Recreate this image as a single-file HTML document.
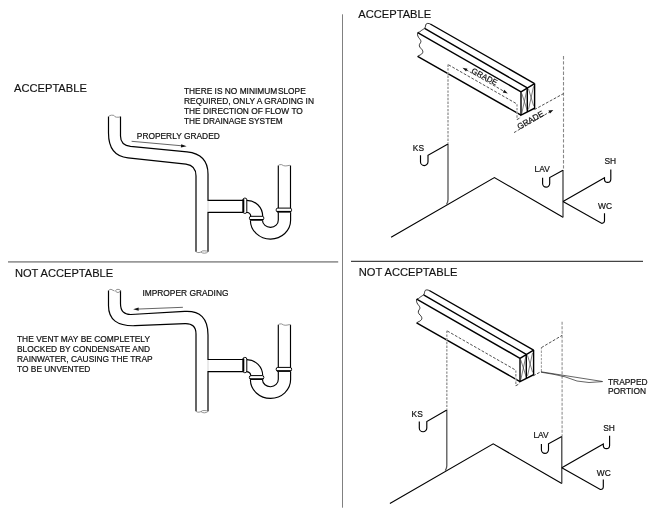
<!DOCTYPE html>
<html><head><meta charset="utf-8">
<style>
html,body{margin:0;padding:0;background:#fff;}
body{width:662px;height:512px;overflow:hidden;position:relative;}
svg{position:absolute;left:0;top:0;will-change:transform;}
text{font-family:"Liberation Sans",sans-serif;fill:#111;}
.h{font-size:11.15px;stroke:#111;stroke-width:0.15px;}
.s{font-size:8.4px;stroke:#111;stroke-width:0.2px;}
.ln{fill:none;stroke:#000;stroke-width:1.15;}
.lp{stroke-width:1.2;}
.g{fill:none;stroke:#a0a0a0;stroke-width:1.5;stroke-dasharray:2.4 1.3;}
.dk{fill:none;stroke:#222;stroke-width:0.8;stroke-dasharray:2.8 1.6;}
.cut{fill:none;stroke:#777;stroke-width:0.8;}
.vent{will-change:transform;position:absolute;left:17.4px;width:133px;height:10px;white-space:nowrap;font-family:"Liberation Sans",sans-serif;font-size:8.4px;line-height:10px;-webkit-text-stroke:0.2px #111;text-align:left;color:#111;}
.j{text-align:justify;text-align-last:justify;}
</style></head>
<body>
<svg width="662" height="512" viewBox="0 0 662 512">
<defs>
  <g id="trap">
    <!-- vertical coupling ring -->
    <rect x="243" y="198.1" width="3.8" height="15.3" rx="1.7" fill="#fff" stroke="#000" stroke-width="1"/>
    <rect x="242.6" y="199.2" width="1.7" height="13.1" fill="#000"/>
    <!-- elbow -->
    <path class="ln" d="M246.8,200.3 A15.9,16 0 0 1 262.7,216.4"/>
    <path class="ln" d="M246.8,212.3 Q250.6,212.8 250.8,216.4"/>
    <!-- horizontal ring -->
    <rect x="249.4" y="216.3" width="14.4" height="3.7" rx="1.6" fill="#fff" stroke="#000" stroke-width="1"/>
    <rect x="250" y="219" width="13.2" height="1.5" fill="#000"/>
    <!-- U bend -->
    <path class="ln" d="M250.4,220.4 A20.1,18.8 0 0 0 290.6,220.2 L290.6,212.3"/>
    <path class="ln" d="M262.5,220.4 A7.9,7.2 0 0 0 278.3,220 L278.3,212.3"/>
    <!-- right pipe -->
    <path class="ln" d="M278.3,208 L278.3,165.5 M290.5,165.5 L290.5,208"/>
    <path class="cut" d="M278.3,165.5 Q279.5,164.3 281.5,164.6 L283.5,165.6 Q285,166.2 287,165.8 L289,165.4 Q290,165.3 290.5,165.5"/>
    <rect x="276.2" y="208.1" width="15.4" height="3.8" rx="1.6" fill="#fff" stroke="#000" stroke-width="1"/>
    <rect x="277" y="210.9" width="13.8" height="1.5" fill="#000"/>
  </g>
  <g id="plumb">
    <!-- main drain -->
    <path class="ln" d="M391.1,237.2 L494.4,177.6 L563,217.2"/>
    <path fill="none" stroke="#333" stroke-width="1.2" d="M563,217.4 L563,170"/>
    <path class="ln" d="M563,170.2 L549.7,177.6 L549.7,183.6 A3.55,3.55 0 0 1 542.6,183.6 L542.6,177.8"/>
    <path fill="none" stroke="#555" stroke-width="1.3" d="M448,143.7 L448,199.5 Q448,202 446.5,204.5"/>
    <path class="ln" d="M448,143.9 L428,155.3 L428,161.8 A3.75,3.75 0 0 1 420.5,161.8 L420.5,155.3"/>
    <path class="ln" d="M563,201.6 L604.5,177.8 L604.5,179.3 A3.15,3.15 0 0 0 610.8,179.3 L610.8,169.5"/>
    <path class="ln" d="M563,201.6 L601.5,223.3 Q604.5,223.5 604.5,220.5 L604.5,213.3"/>
    <text class="s" x="412.8" y="150.8">KS</text>
    <text class="s" x="534.6" y="172.2">LAV</text>
    <text class="s" x="604.4" y="164.4">SH</text>
    <text class="s" x="598" y="209.4">WC</text>
  </g>
  <g id="beam">
    <path class="ln" style="stroke-width:1.4" d="M430.3,24 L534.6,83.6 M424.6,28.3 L527.3,87.9 M417.7,32.6 L521,91.8 M417.6,56.3 L521,115.1"/>
    <path class="ln" style="stroke-width:1.4" d="M521,91.8 L521,115.1 L534.6,108.2 L534.6,83.6 M527.3,87.9 L527.3,111.4 M521,91.8 L534.6,83.6"/>
    <path fill="none" stroke="#444" stroke-width="0.7" d="M521.8,93.5 L527,109.8 M527,89.3 L521.8,113.2 M528.5,88.8 L533.6,105.8 M533.6,86.3 L528.5,109.4"/>
    <path class="ln" style="stroke-width:0.8" d="M430.3,24 C428.5,23.2 426.8,23.2 426.2,24 C425.3,25.3 425.8,27 424.6,28.3 C423,29.6 421.5,30.2 420.8,31 C420,31.8 418.8,32.4 417.7,32.6 C417.3,34 417.4,35.5 418.6,37.5 C420.2,39.5 421.8,41 420.3,43 C418.6,45 419.2,46.8 421,48.5 C423.5,50.8 423.5,53 420.8,54.6 L417.6,56.3"/>
  </g>
</defs>

<!-- dividers -->
<line x1="342.5" y1="14.3" x2="342.5" y2="507.7" stroke="#808080" stroke-width="1"/>
<line x1="8" y1="261.9" x2="338.2" y2="261.9" stroke="#999" stroke-width="1.8"/>
<line x1="351" y1="261.4" x2="643" y2="261.4" stroke="#444" stroke-width="1.1"/>

<!-- headings -->
<text class="h" x="14" y="92.1">ACCEPTABLE</text>
<text class="h" style="font-size:11.1px" x="14.9" y="277">NOT ACCEPTABLE</text>
<text class="h" x="358.3" y="18">ACCEPTABLE</text>
<text class="h" x="358.7" y="276">NOT ACCEPTABLE</text>

<!-- ===== LEFT TOP ===== -->
<text class="s" style="font-size:8.35px" x="184" y="94">THERE IS NO MINIMUM<tspan dx="-1.6"> SLOPE</tspan></text>
<text class="s" x="184" y="104">REQUIRED, ONLY A GRADING IN</text>
<text class="s" style="font-size:8.35px" x="184" y="113.9">THE DIRECTION OF FLOW TO</text>
<text class="s" style="font-size:8.3px" x="184" y="123.5">THE DRAINAGE SYSTEM</text>
<text class="s" x="136.8" y="138.8">PROPERLY GRADED</text>
<path fill="none" stroke="#222" stroke-width="0.7" d="M131.6,141.3 L182,145.8"/>
<path fill="#111" d="M186.6,146.2 L181.2,144.3 L180.9,147.5 Z"/>
<!-- vent pipe -->
<path class="ln lp" d="M120.5,116.6 L120.5,136 Q120.5,145.2 130.5,146.4 L187,151.8 Q208,154 208,174 L208,200.3 L243,200.3 M243,212.3 L208,212.3 L208,251.8"/>
<path class="ln lp" d="M108.5,116.6 L108.5,133 C108.5,148 114,156.5 128,157.8 L186,164.2 Q196,165.5 196,176 L196,251.8"/>
<path class="cut" d="M108.5,116.6 Q109.8,115.2 111.5,115.2 L113.8,115.3 Q114.8,117.2 116.5,117.2 L119,117.2 Q120,117 120.5,116.6"/>
<path class="cut" d="M196,251.6 Q197.2,252.8 199,252.6 L201,252 Q202,250.6 204,250.8 L206.5,251 Q207.6,251.2 208,251.6 M201,252 Q202.5,253.4 204.5,253.2 L206.5,252.8 Q207.8,252.3 208,251.6"/>
<path fill="none" stroke="#ccc" stroke-width="0.8" d="M208,200.8 L208,211.8 M208,360 L208,371.2"/>
<use href="#trap"/>

<!-- ===== LEFT BOTTOM ===== -->
<text class="s" x="142.4" y="296">IMPROPER GRADING</text>
<path fill="none" stroke="#222" stroke-width="0.7" d="M182.9,307.3 L137,309.1"/>
<path fill="#111" d="M133.2,309.3 L138.6,307.6 L138.7,310.8 Z"/>
<path class="ln lp" d="M120.5,290.6 L120.5,303.4 Q120.5,314.8 131,314.5 L184.6,311.4 Q208,310 208,335 L208,359.5 L243,359.5 M243,371.7 L208,371.7 L208,411.3"/>
<path class="ln lp" d="M108.5,290.6 L108.5,305.8 Q108.5,326.5 135,325.7 L185,323.6 Q196,323.2 196,334 L196,411.3"/>
<path class="cut" d="M108.5,290.6 Q109.8,289.2 111,289.3 L114.5,291 M115.5,290.8 Q116,289.3 118,289.3 Q120.3,289.5 120.5,290.6 Q120,292.4 118,292.5 Q116,292.5 115.5,290.8"/>
<path class="cut" d="M196,411.3 Q197.2,412.4 199,412.2 L201,411.6 Q202,410.4 204,410.5 L206.5,410.7 Q207.6,410.9 208,411.3 M201,411.6 Q202.5,413 204.5,412.8 L206.5,412.4 Q207.8,412 208,411.3"/>
<use href="#trap" transform="translate(0,159.3)"/>

<!-- ===== RIGHT TOP ===== -->
<use href="#beam"/>
<use href="#plumb"/>
<path class="g" d="M448,64.5 L448,143.7"/>
<path class="g" style="stroke:#888;stroke-width:1.1;stroke-dasharray:3.4 1.8" d="M563.5,56 L563.5,170"/>
<path class="g" d="M517,104.2 L517,119.5"/>
<path class="dk" d="M448.5,64.8 L517,104"/>
<path class="dk" d="M517,119.5 L521,117.4 M534.4,109.6 L563.5,93.6"/>
<!-- grade along beam -->
<path class="dk" d="M466,69.7 L504,91.3"/>
<path fill="#111" d="M462.5,67.7 L467.5,68.7 L466,71.4 Z"/>
<path fill="#111" d="M507.8,93.4 L502.8,92.4 L504.3,89.7 Z"/>
<text class="s" style="font-size:7.9px" transform="translate(470.8,72.4) rotate(28)">GRADE</text>
<!-- grade lower -->
<path class="dk" d="M514,132.6 L550,111.8"/>
<path fill="#111" d="M553.3,109.9 L548.4,110.6 L550,113.4 Z"/>
<text class="s" style="font-size:8.2px" transform="translate(519.2,129.8) rotate(-30)">GRADE</text>

<!-- ===== RIGHT BOTTOM ===== -->
<g transform="translate(-1,266.5)">
  <use href="#beam"/>
</g>
<g transform="translate(-1.2,266.2)">
  <use href="#plumb"/>
  <path class="g" d="M448,64.5 L448,143.7"/>
  <path class="g" style="stroke:#999;stroke-width:1.2;stroke-dasharray:3 1.5" d="M563.3,55.5 L563.3,170"/>
  <path class="g" d="M517,104.2 L517,119.5"/>
  <path class="dk" d="M448.5,64.8 L517,104"/>
  <path class="dk" d="M517,119.5 L521,117.4 M534.4,109.6 L542.6,105.2"/>
  <path class="g" style="stroke-width:1.1" d="M542.6,105.2 L542.6,81.4"/>
  <path class="dk" d="M542.6,81.4 L563.3,69.2"/>
</g>
<path fill="none" stroke="#222" stroke-width="0.7" d="M541,371.8 L602.6,381.5 M541,372.2 Q555,374.3 565,376.8 Q577,382.4 589,382.5 L602.6,381.6"/>
<text class="s" x="608" y="385">TRAPPED</text>
<text class="s" x="608" y="394.2">PORTION</text>
</svg>
<div class="vent j" style="top:333.9px">THE VENT MAY BE COMPLETELY</div>
<div class="vent j" style="top:344px">BLOCKED BY CONDENSATE AND</div>
<div class="vent j" style="top:354.1px">RAINWATER, CAUSING THE TRAP</div>
<div class="vent" style="top:364px">TO BE UNVENTED</div>
</body></html>
